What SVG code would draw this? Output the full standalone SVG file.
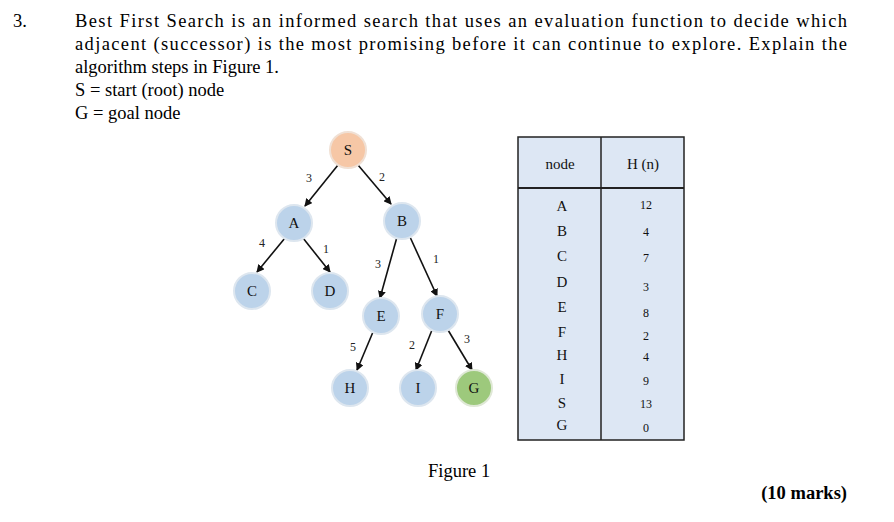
<svg xmlns="http://www.w3.org/2000/svg" width="894" height="522" viewBox="0 0 894 522">
<style>
text{font-family:'Liberation Serif','Times New Roman','DejaVu Serif',serif}
.t{font-size:18.5px;fill:#000}
.n{fill:#bcd3ea;stroke:#dde6ef;stroke-width:2}
.nl{font-size:15px;text-anchor:middle;fill:#111}
.w{font-size:12px;text-anchor:middle;fill:#222}
.e{stroke:#111;stroke-width:1.6;fill:none;marker-end:url(#ah)}
.c{font-size:15px;text-anchor:middle;fill:#111}
.v{font-size:12px;text-anchor:middle;fill:#111}
</style>
<defs><marker id="ah" markerWidth="8" markerHeight="8" refX="7" refY="4" orient="auto" markerUnits="userSpaceOnUse"><path d="M0,0 L8,4 L0,8 z" fill="#111"/></marker></defs>
<rect width="894" height="522" fill="#fff"/>
<text class="t" x="13" y="27">3.</text>
<text class="t" x="75" y="27" textLength="772" lengthAdjust="spacing">Best First Search is an informed search that uses an evaluation function to decide which</text>
<text class="t" x="75" y="50" textLength="772" lengthAdjust="spacing">adjacent (successor) is the most promising before it can continue to explore. Explain the</text>
<text class="t" x="75" y="73">algorithm steps in Figure 1.</text>
<text class="t" x="75" y="96">S = start (root) node</text>
<text class="t" x="75" y="119">G = goal node</text>
<g id="connectors">
<line class="e" x1="338" y1="165" x2="305" y2="206"/><text class="w" x="309" y="182">3</text>
<line class="e" x1="358" y1="165" x2="391" y2="204"/><text class="w" x="382" y="181">2</text>
<line class="e" x1="285" y1="238" x2="257" y2="272"/><text class="w" x="262" y="247">4</text>
<line class="e" x1="303" y1="238" x2="330" y2="272"/><text class="w" x="326" y="253">1</text>
<line class="e" x1="397" y1="237" x2="380" y2="298"/><text class="w" x="378" y="268">3</text>
<line class="e" x1="410" y1="237" x2="437" y2="296"/><text class="w" x="436" y="263">1</text>
<line class="e" x1="373" y1="332" x2="357" y2="370"/><text class="w" x="353" y="351">5</text>
<line class="e" x1="432" y1="330" x2="416" y2="370"/><text class="w" x="412" y="349">2</text>
<line class="e" x1="448" y1="330" x2="472" y2="370"/><text class="w" x="467" y="343">3</text>
</g>
<g id="S"><circle cx="348" cy="150" r="18" fill="#f6c7a6" stroke="#f0e0d4" stroke-width="2"/><text class="nl" x="348" y="155">S</text></g>
<g id="A"><circle class="n" cx="294" cy="223" r="18"/><text class="nl" x="294" y="228">A</text></g>
<g id="B"><circle class="n" cx="402" cy="221" r="18"/><text class="nl" x="402" y="226">B</text></g>
<g id="C"><circle class="n" cx="252" cy="291" r="18"/><text class="nl" x="252" y="296">C</text></g>
<g id="D"><circle class="n" cx="330" cy="291" r="18"/><text class="nl" x="330" y="296">D</text></g>
<g id="E"><circle class="n" cx="381" cy="316" r="18"/><text class="nl" x="381" y="321">E</text></g>
<g id="F"><circle class="n" cx="440" cy="314" r="18"/><text class="nl" x="440" y="319">F</text></g>
<g id="H"><circle class="n" cx="350" cy="388" r="18"/><text class="nl" x="350" y="393">H</text></g>
<g id="I"><circle class="n" cx="418" cy="388" r="18"/><text class="nl" x="418" y="393">I</text></g>
<g id="G"><circle cx="474" cy="388" r="18" fill="#9dc97c" stroke="#dfe8d6" stroke-width="2"/><text class="nl" x="474" y="393">G</text></g>
<g id="table">
<rect x="518" y="137" width="166" height="303" fill="#dde7f4" stroke="#222" stroke-width="1.5"/>
<line x1="518" y1="188" x2="684" y2="188" stroke="#222" stroke-width="2"/>
<line x1="601" y1="137" x2="601" y2="440" stroke="#222" stroke-width="1.5"/>
<text class="c" x="560" y="169">node</text><text class="c" x="643" y="169">H (n)</text>
<text class="c" x="562" y="211">A</text><text class="c" x="562" y="236">B</text><text class="c" x="562" y="261">C</text><text class="c" x="562" y="287">D</text><text class="c" x="562" y="312">E</text><text class="c" x="562" y="337">F</text><text class="c" x="562" y="360">H</text><text class="c" x="562" y="384">I</text><text class="c" x="562" y="408">S</text><text class="c" x="562" y="430">G</text>
<text class="v" x="646" y="209">12</text><text class="v" x="646" y="236">4</text><text class="v" x="646" y="262">7</text><text class="v" x="646" y="291">3</text><text class="v" x="646" y="317">8</text><text class="v" x="646" y="340">2</text><text class="v" x="646" y="361">4</text><text class="v" x="646" y="385">9</text><text class="v" x="646" y="408">13</text><text class="v" x="646" y="432">0</text>
</g>
<text class="t" x="428" y="477">Figure 1</text>
<text class="t" x="847" y="499" text-anchor="end" font-weight="bold">(10 marks)</text>
</svg>
